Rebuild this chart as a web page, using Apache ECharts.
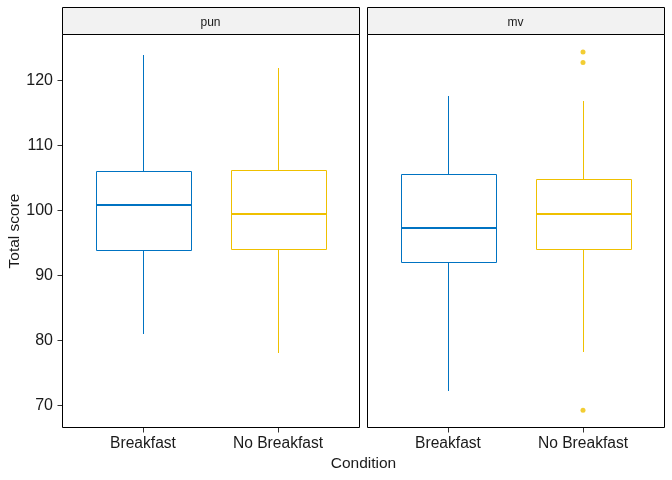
<!DOCTYPE html>
<html>
<head>
<meta charset="utf-8">
<script src="https://cdn.jsdelivr.net/npm/echarts@6/dist/echarts.min.js"></script>
<style>html,body{margin:0;padding:0;background:#fff}#c{width:672px;height:480px}</style>
</head>
<body>
<div id="c"></div>
<script>
// ---- data ----
const categories = ['Breakfast', 'No Breakfast'];
const panels = ['pun', 'mv'];
const yTicks = [70, 80, 90, 100, 110, 120];
// [min, Q1, median, Q3, max]
const punBreakfast   = [81.1, 93.8, 100.8, 106.1, 124.0];
const punNoBreakfast = [78.1, 94.1,  99.5, 106.2, 122.0];
const mvBreakfast    = [72.3, 92.1,  97.3, 105.5, 117.7];
const mvNoBreakfast  = [78.2, 94.1,  99.5, 104.8, 116.9];
const mvNoBreakfastOutliers = [124.4, 122.8, 69.3];
const colors = ['#0073C2', '#EFC000'];

const FONT = '"Liberation Sans", Arial, sans-serif';
const TXT = '#1A1A1A';

function crisp(v) { return Math.round(v - 0.5) + 0.5; }

function renderBox(params, api) {
  const x = api.value(0);
  const lo = api.coord([x, api.value(1)]);
  const q1 = api.coord([x, api.value(2)]);
  const med = api.coord([x, api.value(3)]);
  const q3 = api.coord([x, api.value(4)]);
  const hi = api.coord([x, api.value(5)]);
  const half = api.size([1, 0])[0] * 0.352;
  const color = colors[x];
  const cx = crisp(lo[0]);
  const left = Math.round(cx - half) + 0.5;
  const right = Math.round(cx + half) + 0.5;
  const top = crisp(q3[1]);
  const bot = crisp(q1[1]);
  return {
    type: 'group',
    children: [
      { type: 'line', shape: { x1: cx, y1: Math.round(hi[1]), x2: cx, y2: top }, style: { stroke: color, lineWidth: 1 } },
      { type: 'line', shape: { x1: cx, y1: bot, x2: cx, y2: Math.round(lo[1]) }, style: { stroke: color, lineWidth: 1 } },
      { type: 'rect', shape: { x: left, y: top, width: right - left, height: bot - top }, style: { fill: '#fff', stroke: color, lineWidth: 1 } },
      { type: 'line', shape: { x1: left, y1: Math.round(med[1]), x2: right, y2: Math.round(med[1]) }, style: { stroke: color, lineWidth: 2 } }
    ]
  };
}

const panelData = [
  [punBreakfast, punNoBreakfast],
  [mvBreakfast, mvNoBreakfast]
];

const gridDefs = [
  { left: 75.5, top: 34, width: 270, height: 394 },
  { left: 380.5, top: 34, width: 270, height: 394 }
];
const panelRects = [
  { x: 62, w: 297 },
  { x: 367, w: 297 }
];

const graphics = [];
panelRects.forEach((p, i) => {
  graphics.push({
    type: 'rect', z: 10,
    shape: { x: p.x + 0.5, y: 34.5, width: p.w, height: 393 },
    style: { fill: 'none', stroke: '#000', lineWidth: 1 }
  });
  graphics.push({
    type: 'rect', z: 10,
    shape: { x: p.x + 0.5, y: 7.5, width: p.w, height: 27 },
    style: { fill: '#F2F2F2', stroke: '#000', lineWidth: 1 }
  });
  graphics.push({
    type: 'text', z: 11,
    x: p.x + p.w / 2, y: 22.5,
    style: { text: panels[i], fill: TXT, font: '12px ' + FONT, textAlign: 'center', textVerticalAlign: 'middle' }
  });
});
graphics.push({
  type: 'text', z: 11,
  x: 363.5, y: 464,
  style: { text: 'Condition', fill: TXT, font: '15.5px ' + FONT, textAlign: 'center', textVerticalAlign: 'middle' }
});

const option = {
  animation: false,
  backgroundColor: '#fff',
  grid: gridDefs,
  xAxis: gridDefs.map((g, i) => ({
    type: 'category',
    gridIndex: i,
    data: categories,
    boundaryGap: true,
    axisLine: { show: false },
    axisTick: { show: true, alignWithLabel: true, length: 4.5, lineStyle: { color: '#333' } },
    axisLabel: { color: TXT, fontSize: 15.6, fontFamily: FONT, margin: 8 },
    splitLine: { show: false }
  })),
  yAxis: gridDefs.map((g, i) => ({
    type: 'value',
    gridIndex: i,
    min: 66.57,
    max: 127.18,
    offset: i === 0 ? 13.5 : 0,
    name: i === 0 ? 'Total score' : '',
    nameLocation: 'middle',
    nameRotate: 90,
    nameGap: 38,
    nameTextStyle: { color: TXT, fontSize: 15.5, fontFamily: FONT },
    axisLine: { show: false },
    axisTick: { show: i === 0, length: 4.5, customValues: yTicks, lineStyle: { color: '#333' } },
    axisLabel: { show: i === 0, customValues: yTicks, color: TXT, fontSize: 16, fontFamily: FONT, margin: 9 },
    splitLine: { show: false }
  })),
  series: [
    ...panelData.map((pd, i) => ({
      type: 'custom',
      xAxisIndex: i,
      yAxisIndex: i,
      renderItem: renderBox,
      encode: { x: 0, y: [1, 2, 3, 4, 5] },
      data: pd.map((v, ci) => [ci].concat(v))
    })),
    {
      type: 'scatter',
      xAxisIndex: 1,
      yAxisIndex: 1,
      symbol: 'circle',
      symbolSize: 5,
      itemStyle: { color: colors[1] },
      data: mvNoBreakfastOutliers.map(v => [1, v])
    }
  ],
  graphic: graphics
};

const chart = echarts.init(document.getElementById('c'), null, { renderer: 'canvas' });
chart.setOption(option);
</script>
</body>
</html>
